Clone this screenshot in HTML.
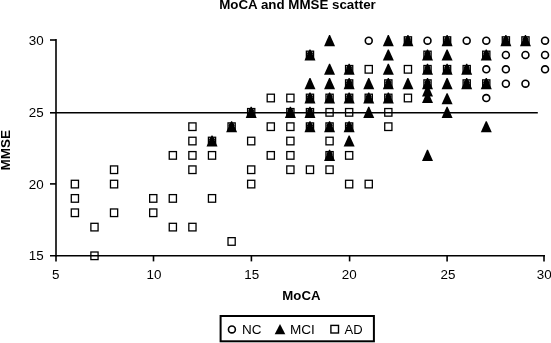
<!DOCTYPE html>
<html><head><meta charset="utf-8"><title>MoCA and MMSE scatter</title>
<style>
html,body{margin:0;padding:0;background:#fff;}
body{width:551px;height:343px;overflow:hidden;}
svg{display:block;}
text{font-family:"Liberation Sans",Arial,Helvetica,sans-serif;font-size:13px;fill:#000;}
.b{font-weight:bold;}
</style></head><body>
<svg width="551" height="343" viewBox="0 0 551 343">
<rect x="0" y="0" width="551" height="343" fill="#fff"/>
<text class="b" x="297.5" y="9.3" text-anchor="middle" style="font-size:13.33px">MoCA and MMSE scatter</text>
<g stroke="#000" stroke-width="1.6" fill="none">
<path d="M56,39.1 V256.6"/>
<path d="M50,255.7 H545"/>
<path d="M50,40 H56"/>
<path d="M50,112.8 H56"/>
<path d="M50,183.9 H56"/>
<path d="M56.0,255.7 V261.4"/>
<path d="M153.5,255.7 V261.4"/>
<path d="M251.4,255.7 V261.4"/>
<path d="M349.6,255.7 V261.4"/>
<path d="M447.1,255.7 V261.4"/>
<path d="M544.0,255.7 V261.4"/>
<path d="M56,112.8 H537.8"/>
</g>
<text x="43.7" y="44.6" text-anchor="end" style="font-size:13.4px">30</text>
<text x="43.7" y="117.4" text-anchor="end" style="font-size:13.4px">25</text>
<text x="43.7" y="188.5" text-anchor="end" style="font-size:13.4px">20</text>
<text x="43.7" y="260.3" text-anchor="end" style="font-size:13.4px">15</text>
<text x="55.8" y="279.2" text-anchor="middle" style="font-size:13.4px">5</text>
<text x="154.0" y="279.2" text-anchor="middle" style="font-size:13.4px">10</text>
<text x="251.7" y="279.2" text-anchor="middle" style="font-size:13.4px">15</text>
<text x="349.3" y="279.2" text-anchor="middle" style="font-size:13.4px">20</text>
<text x="448.0" y="279.2" text-anchor="middle" style="font-size:13.4px">25</text>
<text x="544.3" y="279.2" text-anchor="middle" style="font-size:13.4px">30</text>
<text class="b" x="301.4" y="299.7" text-anchor="middle" style="font-size:13.2px">MoCA</text>
<text class="b" transform="translate(10.1,150.3) rotate(-90) scale(1.04,1)" text-anchor="middle">MMSE</text>
<g fill="none" stroke="#000" stroke-width="1.6">
<circle cx="368.74" cy="40.67" r="3.45"/>
<circle cx="427.51" cy="40.67" r="3.45"/>
<circle cx="466.69" cy="40.67" r="3.45"/>
<circle cx="486.28" cy="40.67" r="3.45"/>
<circle cx="486.28" cy="69.36" r="3.45"/>
<circle cx="486.28" cy="98.05" r="3.45"/>
<circle cx="505.87" cy="55.02" r="3.45"/>
<circle cx="505.87" cy="69.36" r="3.45"/>
<circle cx="505.87" cy="83.71" r="3.45"/>
<circle cx="525.46" cy="55.02" r="3.45"/>
<circle cx="525.46" cy="83.71" r="3.45"/>
<circle cx="545.05" cy="40.67" r="3.45"/>
<circle cx="545.05" cy="55.02" r="3.45"/>
<circle cx="545.05" cy="69.36" r="3.45"/>
</g>
<g fill="#000" stroke="none">
<path d="M211.52,135.49 H212.52 L217.52,146.59 H206.52 Z"/>
<path d="M209.92,137.69 H214.12 L215.22,140.29 H208.82 Z"/>
<path d="M231.11,121.14 H232.11 L237.11,132.24 H226.11 Z"/>
<path d="M229.51,123.34 H233.71 L234.81,125.94 H228.41 Z"/>
<path d="M250.70,106.80 H251.70 L256.70,117.90 H245.70 Z"/>
<path d="M249.10,109.00 H253.30 L254.40,111.60 H248.00 Z"/>
<path d="M289.88,106.80 H290.88 L295.88,117.90 H284.88 Z"/>
<path d="M288.28,109.00 H292.48 L293.58,111.60 H287.18 Z"/>
<path d="M309.47,49.42 H310.47 L315.47,60.52 H304.47 Z"/>
<path d="M307.87,51.62 H312.07 L313.17,54.22 H306.77 Z"/>
<path d="M309.47,78.11 H310.47 L315.47,89.21 H304.47 Z"/>
<path d="M309.47,92.45 H310.47 L315.47,103.55 H304.47 Z"/>
<path d="M307.87,94.65 H312.07 L313.17,97.25 H306.77 Z"/>
<path d="M309.47,106.80 H310.47 L315.47,117.90 H304.47 Z"/>
<path d="M307.87,109.00 H312.07 L313.17,111.60 H306.77 Z"/>
<path d="M309.47,121.14 H310.47 L315.47,132.24 H304.47 Z"/>
<path d="M307.87,123.34 H312.07 L313.17,125.94 H306.77 Z"/>
<path d="M329.06,35.07 H330.06 L335.06,46.17 H324.06 Z"/>
<path d="M329.06,63.76 H330.06 L335.06,74.86 H324.06 Z"/>
<path d="M329.06,78.11 H330.06 L335.06,89.21 H324.06 Z"/>
<path d="M329.06,92.45 H330.06 L335.06,103.55 H324.06 Z"/>
<path d="M327.46,94.65 H331.66 L332.76,97.25 H326.36 Z"/>
<path d="M329.06,121.14 H330.06 L335.06,132.24 H324.06 Z"/>
<path d="M327.46,123.34 H331.66 L332.76,125.94 H326.36 Z"/>
<path d="M329.06,149.84 H330.06 L335.06,160.94 H324.06 Z"/>
<path d="M327.46,152.03 H331.66 L332.76,154.63 H326.36 Z"/>
<path d="M348.65,63.76 H349.65 L354.65,74.86 H343.65 Z"/>
<path d="M347.05,65.96 H351.25 L352.35,68.56 H345.95 Z"/>
<path d="M348.65,78.11 H349.65 L354.65,89.21 H343.65 Z"/>
<path d="M347.05,80.31 H351.25 L352.35,82.91 H345.95 Z"/>
<path d="M348.65,92.45 H349.65 L354.65,103.55 H343.65 Z"/>
<path d="M347.05,94.65 H351.25 L352.35,97.25 H345.95 Z"/>
<path d="M348.65,121.14 H349.65 L354.65,132.24 H343.65 Z"/>
<path d="M347.05,123.34 H351.25 L352.35,125.94 H345.95 Z"/>
<path d="M348.65,135.49 H349.65 L354.65,146.59 H343.65 Z"/>
<path d="M368.24,78.11 H369.24 L374.24,89.21 H363.24 Z"/>
<path d="M368.24,92.45 H369.24 L374.24,103.55 H363.24 Z"/>
<path d="M366.64,94.65 H370.84 L371.94,97.25 H365.54 Z"/>
<path d="M368.24,106.80 H369.24 L374.24,117.90 H363.24 Z"/>
<path d="M387.83,35.07 H388.83 L393.83,46.17 H382.83 Z"/>
<path d="M387.83,49.42 H388.83 L393.83,60.52 H382.83 Z"/>
<path d="M387.83,63.76 H388.83 L393.83,74.86 H382.83 Z"/>
<path d="M387.83,78.11 H388.83 L393.83,89.21 H382.83 Z"/>
<path d="M386.23,80.31 H390.43 L391.53,82.91 H385.13 Z"/>
<path d="M387.83,92.45 H388.83 L393.83,103.55 H382.83 Z"/>
<path d="M386.23,94.65 H390.43 L391.53,97.25 H385.13 Z"/>
<path d="M407.42,35.07 H408.42 L413.42,46.17 H402.42 Z"/>
<path d="M405.82,37.27 H410.02 L411.12,39.87 H404.72 Z"/>
<path d="M407.42,78.11 H408.42 L413.42,89.21 H402.42 Z"/>
<path d="M427.01,49.42 H428.01 L433.01,60.52 H422.01 Z"/>
<path d="M425.41,51.62 H429.61 L430.71,54.22 H424.31 Z"/>
<path d="M427.01,63.76 H428.01 L433.01,74.86 H422.01 Z"/>
<path d="M425.41,65.96 H429.61 L430.71,68.56 H424.31 Z"/>
<path d="M427.01,78.11 H428.01 L433.01,89.21 H422.01 Z"/>
<path d="M425.41,80.31 H429.61 L430.71,82.91 H424.31 Z"/>
<path d="M427.01,85.28 H428.01 L433.01,96.38 H422.01 Z"/>
<path d="M427.01,92.02 H428.01 L433.01,103.12 H422.01 Z"/>
<path d="M427.01,149.84 H428.01 L433.01,160.94 H422.01 Z"/>
<path d="M446.60,35.07 H447.60 L452.60,46.17 H441.60 Z"/>
<path d="M445.00,37.27 H449.20 L450.30,39.87 H443.90 Z"/>
<path d="M446.60,49.42 H447.60 L452.60,60.52 H441.60 Z"/>
<path d="M446.60,63.76 H447.60 L452.60,74.86 H441.60 Z"/>
<path d="M445.00,65.96 H449.20 L450.30,68.56 H443.90 Z"/>
<path d="M446.60,78.11 H447.60 L452.60,89.21 H441.60 Z"/>
<path d="M446.60,93.17 H447.60 L452.60,104.27 H441.60 Z"/>
<path d="M446.60,106.80 H447.60 L452.60,117.90 H441.60 Z"/>
<path d="M466.19,63.76 H467.19 L472.19,74.86 H461.19 Z"/>
<path d="M464.59,65.96 H468.79 L469.89,68.56 H463.49 Z"/>
<path d="M466.19,78.11 H467.19 L472.19,89.21 H461.19 Z"/>
<path d="M464.59,80.31 H468.79 L469.89,82.91 H463.49 Z"/>
<path d="M485.78,49.42 H486.78 L491.78,60.52 H480.78 Z"/>
<path d="M484.18,51.62 H488.38 L489.48,54.22 H483.08 Z"/>
<path d="M485.78,78.11 H486.78 L491.78,89.21 H480.78 Z"/>
<path d="M484.18,80.31 H488.38 L489.48,82.91 H483.08 Z"/>
<path d="M485.78,121.14 H486.78 L491.78,132.24 H480.78 Z"/>
<path d="M505.37,35.07 H506.37 L511.37,46.17 H500.37 Z"/>
<path d="M503.77,37.27 H507.97 L509.07,39.87 H502.67 Z"/>
<path d="M524.96,35.07 H525.96 L530.96,46.17 H519.96 Z"/>
<path d="M523.36,37.27 H527.56 L528.66,39.87 H522.26 Z"/>
</g>
<g fill="none" stroke="#000" stroke-width="1.3">
<rect x="71.29" y="180.28" width="7.2" height="7.6"/>
<rect x="71.29" y="194.62" width="7.2" height="7.6"/>
<rect x="71.29" y="208.97" width="7.2" height="7.6"/>
<rect x="90.88" y="223.31" width="7.2" height="7.6"/>
<rect x="90.88" y="252.00" width="7.2" height="7.6"/>
<rect x="110.47" y="165.93" width="7.2" height="7.6"/>
<rect x="110.47" y="180.28" width="7.2" height="7.6"/>
<rect x="110.47" y="208.97" width="7.2" height="7.6"/>
<rect x="149.65" y="194.62" width="7.2" height="7.6"/>
<rect x="149.65" y="208.97" width="7.2" height="7.6"/>
<rect x="169.24" y="151.59" width="7.2" height="7.6"/>
<rect x="169.24" y="194.62" width="7.2" height="7.6"/>
<rect x="169.24" y="223.31" width="7.2" height="7.6"/>
<rect x="188.83" y="122.89" width="7.2" height="7.6"/>
<rect x="188.83" y="137.24" width="7.2" height="7.6"/>
<rect x="188.83" y="151.59" width="7.2" height="7.6"/>
<rect x="188.83" y="165.93" width="7.2" height="7.6"/>
<rect x="188.83" y="223.31" width="7.2" height="7.6"/>
<rect x="208.42" y="137.24" width="7.2" height="7.6"/>
<rect x="208.42" y="151.59" width="7.2" height="7.6"/>
<rect x="208.42" y="194.62" width="7.2" height="7.6"/>
<rect x="228.01" y="122.89" width="7.2" height="7.6"/>
<rect x="228.01" y="237.66" width="7.2" height="7.6"/>
<rect x="247.60" y="108.55" width="7.2" height="7.6"/>
<rect x="247.60" y="137.24" width="7.2" height="7.6"/>
<rect x="247.60" y="165.93" width="7.2" height="7.6"/>
<rect x="247.60" y="180.28" width="7.2" height="7.6"/>
<rect x="267.19" y="94.20" width="7.2" height="7.6"/>
<rect x="267.19" y="122.89" width="7.2" height="7.6"/>
<rect x="267.19" y="151.59" width="7.2" height="7.6"/>
<rect x="286.78" y="94.20" width="7.2" height="7.6"/>
<rect x="286.78" y="108.55" width="7.2" height="7.6"/>
<rect x="286.78" y="122.89" width="7.2" height="7.6"/>
<rect x="286.78" y="137.24" width="7.2" height="7.6"/>
<rect x="286.78" y="151.59" width="7.2" height="7.6"/>
<rect x="286.78" y="165.93" width="7.2" height="7.6"/>
<rect x="306.37" y="51.17" width="7.2" height="7.6"/>
<rect x="306.37" y="94.20" width="7.2" height="7.6"/>
<rect x="306.37" y="108.55" width="7.2" height="7.6"/>
<rect x="306.37" y="122.89" width="7.2" height="7.6"/>
<rect x="306.37" y="165.93" width="7.2" height="7.6"/>
<rect x="325.96" y="94.20" width="7.2" height="7.6"/>
<rect x="325.96" y="108.55" width="7.2" height="7.6"/>
<rect x="325.96" y="122.89" width="7.2" height="7.6"/>
<rect x="325.96" y="137.24" width="7.2" height="7.6"/>
<rect x="325.96" y="151.59" width="7.2" height="7.6"/>
<rect x="325.96" y="165.93" width="7.2" height="7.6"/>
<rect x="345.55" y="65.51" width="7.2" height="7.6"/>
<rect x="345.55" y="79.86" width="7.2" height="7.6"/>
<rect x="345.55" y="94.20" width="7.2" height="7.6"/>
<rect x="345.55" y="108.55" width="7.2" height="7.6"/>
<rect x="345.55" y="122.89" width="7.2" height="7.6"/>
<rect x="345.55" y="151.59" width="7.2" height="7.6"/>
<rect x="345.55" y="180.28" width="7.2" height="7.6"/>
<rect x="365.14" y="65.51" width="7.2" height="7.6"/>
<rect x="365.14" y="94.20" width="7.2" height="7.6"/>
<rect x="365.14" y="180.28" width="7.2" height="7.6"/>
<rect x="384.73" y="79.86" width="7.2" height="7.6"/>
<rect x="384.73" y="94.20" width="7.2" height="7.6"/>
<rect x="384.73" y="108.55" width="7.2" height="7.6"/>
<rect x="384.73" y="122.89" width="7.2" height="7.6"/>
<rect x="404.32" y="36.82" width="7.2" height="7.6"/>
<rect x="404.32" y="65.51" width="7.2" height="7.6"/>
<rect x="404.32" y="94.20" width="7.2" height="7.6"/>
<rect x="423.91" y="51.17" width="7.2" height="7.6"/>
<rect x="423.91" y="65.51" width="7.2" height="7.6"/>
<rect x="423.91" y="79.86" width="7.2" height="7.6"/>
<rect x="443.50" y="36.82" width="7.2" height="7.6"/>
<rect x="443.50" y="65.51" width="7.2" height="7.6"/>
<rect x="463.09" y="65.51" width="7.2" height="7.6"/>
<rect x="463.09" y="79.86" width="7.2" height="7.6"/>
<rect x="482.68" y="51.17" width="7.2" height="7.6"/>
<rect x="482.68" y="79.86" width="7.2" height="7.6"/>
<rect x="502.27" y="36.82" width="7.2" height="7.6"/>
<rect x="521.86" y="36.82" width="7.2" height="7.6"/>
</g>
<rect x="220.6" y="316" width="153.3" height="25.3" fill="#fff" stroke="#000" stroke-width="2"/>
<circle cx="231.9" cy="329.4" r="3.45" fill="none" stroke="#000" stroke-width="1.6"/>
<text x="241.9" y="333.9" style="font-size:13.5px">NC</text>
<path d="M280,324 L285.3,334.3 H274.7 Z" fill="#000"/>
<text x="289.9" y="333.9" style="font-size:13.6px">MCI</text>
<rect x="330.9" y="325.4" width="7.6" height="7.6" fill="none" stroke="#000" stroke-width="1.4"/>
<text x="344.5" y="333.9">AD</text>
</svg>
</body></html>
